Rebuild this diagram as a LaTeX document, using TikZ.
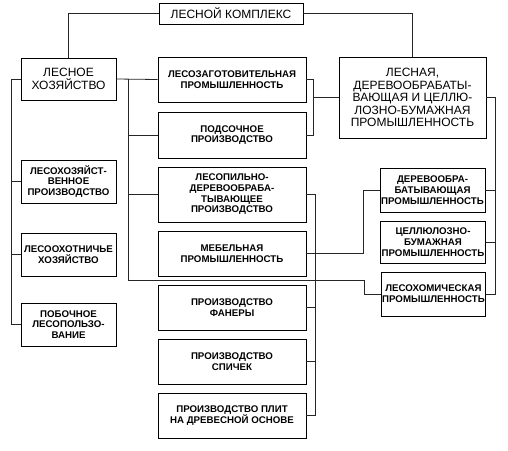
\documentclass[tikz,border=0pt]{standalone}
\usepackage{fontspec}
\setmainfont{Liberation Sans}
\tikzset{
  bigbox/.style={draw=black, line width=0.8pt, align=center, inner sep=1pt,
    font=\fontsize{12}{12.5}\selectfont},
  smallbox/.style={draw=black, line width=0.8pt, align=center, inner sep=1pt,
    font=\fontsize{9.7}{10.7}\selectfont\bfseries},
  conn/.style={draw=black!85, line width=0.8pt}
}
\begin{document}
\begin{tikzpicture}[x=1pt,y=-1pt]
\useasboundingbox (0,0) rectangle (508,450);
% top
\node[bigbox, minimum width=144pt, minimum height=21pt] (top) at (231,13.5) {ЛЕСНОЙ КОМПЛЕКС};
\node[bigbox, minimum width=95pt, minimum height=42pt] (lh) at (68.5,79) {ЛЕСНОЕ\\ХОЗЯЙСТВО};
\node[bigbox, minimum width=147pt, minimum height=81pt] (lp) at (412.5,97.5) {ЛЕСНАЯ,\\ДЕРЕВООБРАБАТЫ-\\ВАЮЩАЯ И ЦЕЛЛЮ-\\ЛОЗНО-БУМАЖНАЯ\\ПРОМЫШЛЕННОСТЬ};
% middle column
\node[smallbox, minimum width=148pt, minimum height=45pt] (m1) at (232,79.5) {ЛЕСОЗАГОТОВИТЕЛЬНАЯ\\ПРОМЫШЛЕННОСТЬ};
\node[smallbox, minimum width=148pt, minimum height=46pt] (m2) at (232,135) {ПОДСОЧНОЕ\\ПРОИЗВОДСТВО};
\node[smallbox, minimum width=148pt, minimum height=55pt] (m3) at (232,194.5) {ЛЕСОПИЛЬНО-\\ДЕРЕВООБРАБА-\\ТЫВАЮЩЕЕ\\ПРОИЗВОДСТВО};
\node[smallbox, minimum width=148pt, minimum height=45pt] (m4) at (232,253.5) {МЕБЕЛЬНАЯ\\ПРОМЫШЛЕННОСТЬ};
\node[smallbox, minimum width=148pt, minimum height=45pt] (m5) at (232,307.5) {ПРОИЗВОДСТВО\\ФАНЕРЫ};
\node[smallbox, minimum width=148pt, minimum height=45pt] (m6) at (232,361.5) {ПРОИЗВОДСТВО\\СПИЧЕК};
\node[smallbox, minimum width=148pt, minimum height=45pt] (m7) at (232,415.5) {ПРОИЗВОДСТВО ПЛИТ\\НА ДРЕВЕСНОЙ ОСНОВЕ};
% left column
\node[smallbox, minimum width=95pt, minimum height=43pt] (l1) at (68.5,181.5) {ЛЕСОХОЗЯЙСТ-\\ВЕННОЕ\\ПРОИЗВОДСТВО};
\node[smallbox, minimum width=95pt, minimum height=43pt] (l2) at (68.5,254.5) {ЛЕСООХОТНИЧЬЕ\\ХОЗЯЙСТВО};
\node[smallbox, minimum width=95pt, minimum height=43pt] (l3) at (68.5,324.5) {ПОБОЧНОЕ\\ЛЕСОПОЛЬЗО-\\ВАНИЕ};
% right column
\node[smallbox, minimum width=105pt, minimum height=44pt] (r1) at (432.5,190) {ДЕРЕВООБРА-\\БАТЫВАЮЩАЯ\\ПРОМЫШЛЕННОСТЬ};
\node[smallbox, minimum width=104pt, minimum height=42pt] (r2) at (433,242) {ЦЕЛЛЮЛОЗНО-\\БУМАЖНАЯ\\ПРОМЫШЛЕННОСТЬ};
\node[smallbox, minimum width=103pt, minimum height=44pt] (r3) at (433.5,294) {ЛЕСОХОМИЧЕСКАЯ\\ПРОМЫШЛЕННОСТЬ};
% spine coordinates
\coordinate (sL) at (11,0);
\coordinate (sM) at (128,0);
\coordinate (sA) at (313,0);
\coordinate (sB) at (315,0);
\coordinate (sR) at (495,0);
\coordinate (cA) at (364,280);
\coordinate (cB) at (363,0);
% connectors
\draw[conn] (top.west) -| (lh.north);
\draw[conn] (top.east) -| (lp.north);
\draw[conn] (lh.west) -- (lh.west -| sL) |- (l3.west);
\draw[conn] (l1.west) -- (l1.west -| sL);
\draw[conn] (l2.west) -- (l2.west -| sL);
\draw[conn] (lh.east) -- (m1.west);
\draw[conn] (lh.east -| sM) -- (sM |- cA) -- (cA) |- (r3.west);
\draw[conn] (m2.west) -- (m2.west -| sM);
\draw[conn] (m3.west) -- (m3.west -| sM);
\draw[conn] (m1.east) -- (m1.east -| sA) |- (m2.east);
\draw[conn] (lp.west -| sA) -- (lp.west);
\draw[conn] (m3.east) -- (m3.east -| sB) |- (m7.east);
\draw[conn] (m5.east) -- (m5.east -| sB);
\draw[conn] (m6.east) -- (m6.east -| sB);
\draw[conn] (m4.east) -- (m4.east -| cB) |- (r1.west);
\draw[conn] (lp.east) -- (lp.east -| sR) |- (r3.east);
\draw[conn] (r1.east) -- (r1.east -| sR);
\draw[conn] (r2.east) -- (r2.east -| sR);
\end{tikzpicture}
\end{document}
